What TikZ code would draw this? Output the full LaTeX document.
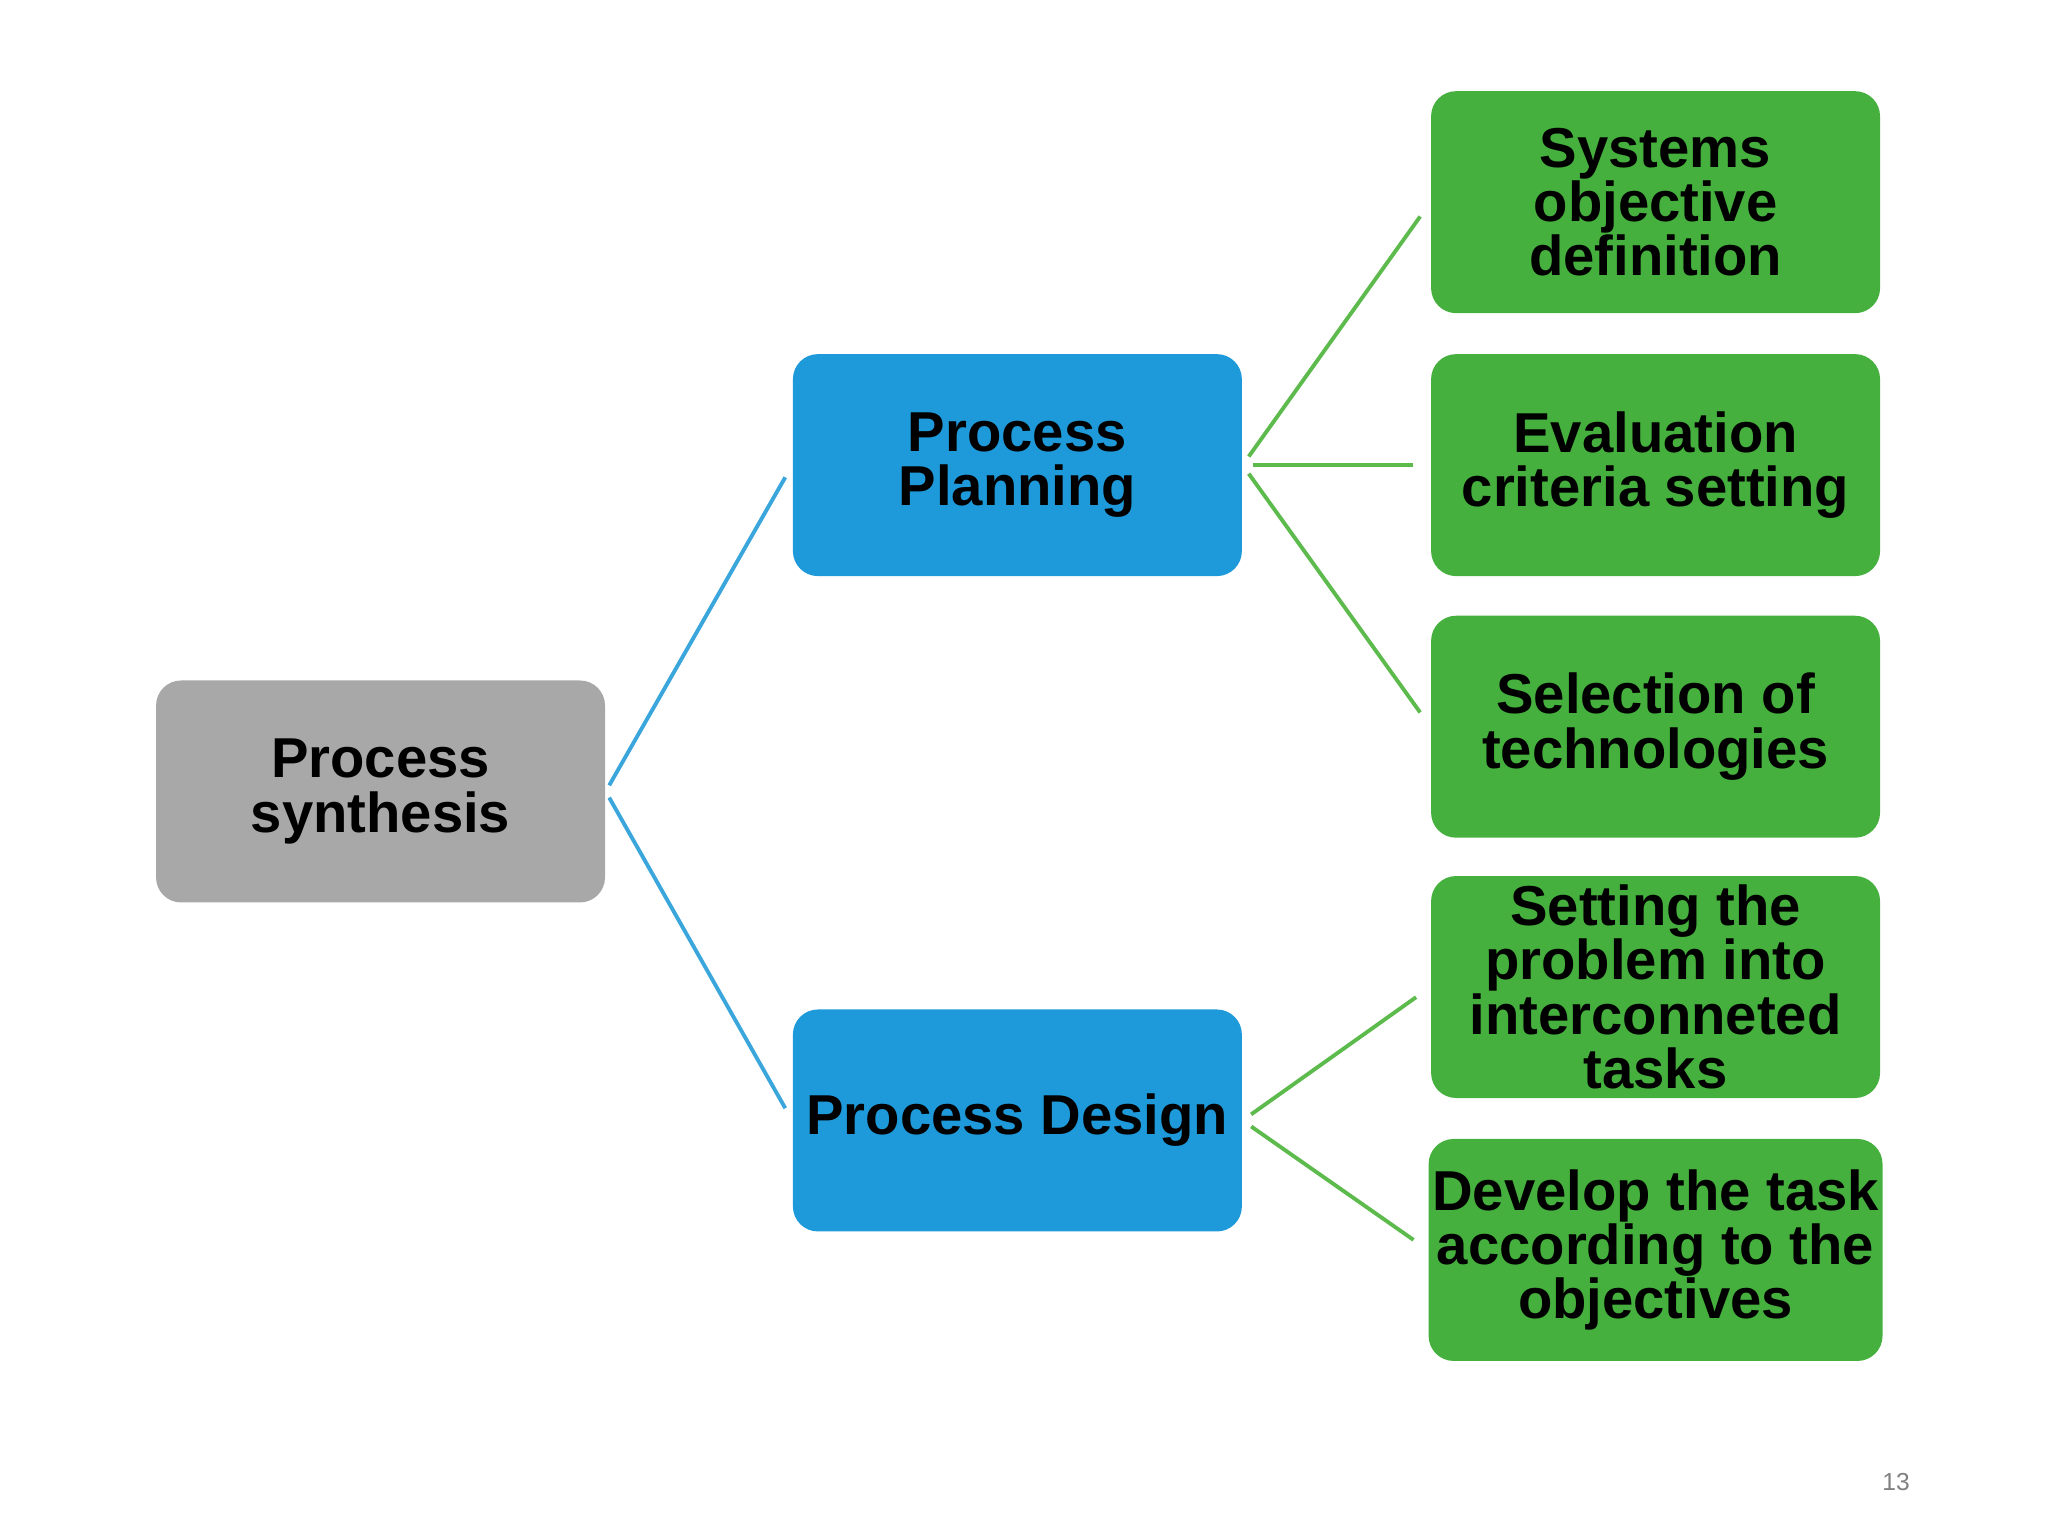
\documentclass[tikz,border=0pt]{standalone}
\usepackage{fontspec}
\setmainfont{Liberation Sans}
\usetikzlibrary{positioning}
\definecolor{boxgray}{HTML}{A8A8A8}
\definecolor{boxblue}{HTML}{1E9ADA}
\definecolor{boxgreen}{HTML}{45B03D}
\definecolor{lineblue}{HTML}{3AA6DC}
\definecolor{linegreen}{HTML}{5DBA4C}
\begin{document}
\begin{tikzpicture}[x=0.013213cm, y=-0.013213cm]
\tikzstyle{box}=[rectangle, rounded corners=0.25cm, minimum width=4.49cm, minimum height=2.22cm, align=center, font=\fontsize{16}{15.5}\selectfont\bfseries, inner sep=1pt]
\tikzstyle{root}=[box, fill=boxgray]
\tikzstyle{mid}=[box, fill=boxblue]
\tikzstyle{leaf}=[box, fill=boxgreen]
\tikzstyle{blueline}=[draw=lineblue, line width=1.1pt, shorten >=4pt, shorten <=2pt]
\tikzstyle{greenline}=[draw=linegreen, line width=1.1pt, shorten >=5pt, shorten <=3pt]
  \useasboundingbox (0,0) rectangle (1550,1163);
  \node[root] (synth) at (288,599) {Process\\synthesis};
  \node[mid] (plan) at (770,352) {Process\\Planning};
  \node[mid] (design) at (770,848) {Process Design};
  \node[leaf] (obj) at (1253,153) {Systems\\objective\\definition};
  \node[leaf] (eval) at (1253,352) {Evaluation\\criteria setting};
  \node[leaf] (tech) at (1253,550) {Selection of\\technologies};
  \node[leaf] (tasks) at (1253,747) {Setting the\\problem into\\interconneted\\tasks};
  \node[leaf] (dev) at (1253,946) {Develop the task\\according to the\\objectives};
  \node[text=gray, font=\scriptsize] (page) at (1435,1122) {13};

  \path (synth.east) edge [blueline] (plan.west)
	(synth.east) edge [blueline] (design.west)
	(plan.east) edge [greenline] (obj.west)
	(plan.east) edge [greenline] (eval.west)
	(plan.east) edge [greenline] (tech.west)
	(design.east) edge [greenline] (tasks.west)
	(design.east) edge [greenline] (dev.west);
\end{tikzpicture}
\end{document}
